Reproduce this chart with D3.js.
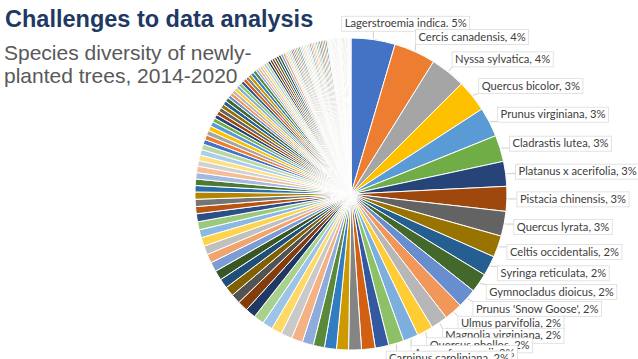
<!DOCTYPE html>
<html>
<head>
<meta charset="utf-8">
<script src="https://cdn.jsdelivr.net/npm/d3@7"></script>
<style>
	body { margin: 0; background: #fff; }
	svg { display: block; }
</style>
</head>
<body>
<div id="chart"></div>
<script>

// ---- data (trees planted per species, sorted high to low) ----
var title_text= "Challenges to data analysis";
var subtitle_lines= ["Species diversity of newly-", "planted trees, 2014-2020"];

// only the largest species carry a data label
var labelled_species= [
	"Lagerstroemia indica.", "Cercis canadensis", "Nyssa sylvatica", "Quercus bicolor",
	"Prunus virginiana", "Cladrastis lutea", "Platanus x acerifolia", "Pistacia chinensis",
	"Quercus lyrata", "Celtis occidentalis", "Syringa reticulata", "Gymnocladus dioicus",
	"Prunus 'Snow Goose'", "Ulmus parvifolia", "Magnolia virginiana", "Quercus phellos",
	"Acer x freemanii", "Carpinus caroliniana"
];

var tree_counts= [
	55, 52, 44, 40, 37, 33, 31, 31, 31, 27, 25, 24, 24, 23, 21, 20, 19, 19, 17, 17, 16,
	15, 15, 14, 14, 14, 14, 13, 13, 13, 13, 13, 12, 12, 12, 12, 12, 11, 11, 11, 10, 10,
	10, 9, 9, 9, 8, 8, 8, 8,
	7, 7, 7, 7, 6, 6, 6, 6, 6, 5, 5,
	5, 5, 5, 5, 5, 4, 4, 4, 4, 4, 4,
	4, 4, 4, 4, 4, 4, 3, 3, 3, 3, 3, 3, 3, 3, 3,
	3, 3, 3, 3, 3, 2, 2, 2, 2, 2, 2, 2, 2, 2, 2, 2, 2, 2, 2, 2, 2, 2,
	2, 2, 2, 2, 2, 2, 2, 2, 2, 2,
	1, 1, 1, 1, 1, 1, 1, 1, 1, 1, 1, 1, 1, 1, 1, 1, 1, 1, 1, 1,
	1, 1, 1, 1, 1, 1, 1, 1, 1, 1
];

// office theme accents and the lum variations excel steps through
var accent_colors= ["#4472C4", "#ED7D31", "#A5A5A5", "#FFC000", "#5B9BD5", "#70AD47"];
var lum_variations= [[1, 0], [0.6, 0], [0.8, 0.2], [0.8, 0], [0.6, 0.4], [0.5, 0], [0.7, 0.3], [0.7, 0], [0.5, 0.5]];


var width= 638;
var height= 359;

var cx= 351;
var cy= 194;
var radius= 156;
var label_radius= radius+ 16;
var label_h= 15;
var label_pad= 3;

function slice_color(i) {
	var base= d3.hsl(accent_colors[i% 6]);
	var v= lum_variations[Math.floor(i/ 6)% lum_variations.length];
	base.l= base.l* v[0]+ v[1];
	return base.formatHex();
}

var total= d3.sum(tree_counts);
var pct= d3.format(".0%");

var svg= d3.select("#chart")
		.append("svg")
		.attr("width", width)
		.attr("height", height);

var pie= d3.pie().sort(null).value(function(d) { return d; });
var arcs= pie(tree_counts);

var arc= d3.arc().innerRadius(0).outerRadius(radius);

var pie_g= svg.append("g")
	.attr("transform", "translate(" + cx + "," + cy + ")");

pie_g.selectAll("path")
	.data(arcs)
	.enter()
	.append("path")
		.attr("d", arc)
		.attr("fill", function(d, i) { return slice_color(i); })
		.attr("stroke", "#fff")
		.attr("stroke-width", 1)
		.attr("stroke-linejoin", "round");


// ---- data labels ----
var label_g= svg.append("g");
var lines_g= label_g.append("g");

labelled_species.forEach(function(name, i) {
	var d= arcs[i];
	var mid= (d.startAngle+ d.endAngle)/ 2;
	var sep= name.slice(-1)=== "." ? " " : ", ";
	var txt= name+ sep+ pct(d.value/ total);

	var g= label_g.append("g");
	var rect= g.append("rect");
	var t= g.append("text")
		.attr("font-family", "Lato, 'Open Sans', sans-serif")
		.attr("font-size", 11.2)
		.attr("fill", "#404040")
		.text(txt);

	var tw= t.node().getComputedTextLength();
	var w= tw+ 2* label_pad;
	var ax= cx+ label_radius* Math.sin(mid);
	var ay= cy- label_radius* Math.cos(mid);
	var left= ax- 6- w* Math.max(0, 0.36- Math.sin(mid));
	var top= ay- label_h/ 2;

	rect.attr("x", left)
		.attr("y", top)
		.attr("width", w)
		.attr("height", label_h)
		.attr("fill", "#fff")
		.attr("stroke", "#D9D9D9")
		.attr("stroke-width", 0.75);

	t.attr("x", left+ label_pad)
		.attr("y", top+ 11.2);

	// leader line from the slice edge to the nearest point of the box
	var px= cx+ (radius+ 1)* Math.sin(mid);
	var py= cy- (radius+ 1)* Math.cos(mid);
	var qx= Math.max(left, Math.min(px, left+ w));
	var qy= Math.max(top, Math.min(py, top+ label_h));
	if (Math.hypot(qx- px, qy- py)> 5) {
		lines_g.append("line")
			.attr("x1", px).attr("y1", py)
			.attr("x2", qx).attr("y2", qy)
			.attr("stroke", "#BFBFBF")
			.attr("stroke-width", 0.75);
	}
});


// ---- titles ----
svg.append("text")
	.attr("x", 5)
	.attr("y", 27)
	.attr("font-family", "'Liberation Sans', Arial, sans-serif")
	.attr("font-weight", "bold")
	.attr("font-size", 23.5)
	.attr("fill", "#203864")
	.text(title_text);

svg.selectAll(".subtitle")
	.data(subtitle_lines)
	.enter()
	.append("text")
		.attr("class", "subtitle")
		.attr("x", 4)
		.attr("y", function(d, i) { return 60+ i* 23; })
		.attr("font-family", "'Liberation Sans', Arial, sans-serif")
		.attr("font-size", 21)
		.attr("fill", "#595959")
		.text(function(d) { return d; });

</script>
</body>
</html>
